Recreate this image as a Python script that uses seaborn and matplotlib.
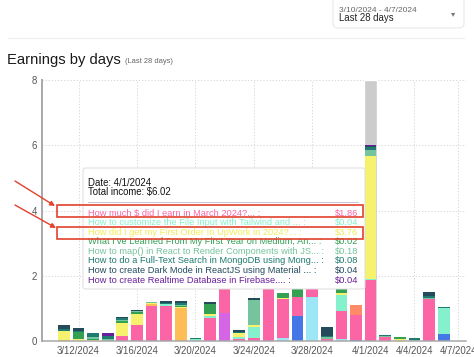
import numpy as np
import seaborn as sns
import matplotlib.pyplot as plt
from matplotlib.patches import FancyBboxPatch, Rectangle, FancyArrowPatch

# days shown on the chart
days = ["3/10/2024", "3/11/2024", "3/12/2024", "3/13/2024", "3/14/2024", "3/15/2024",
        "3/16/2024", "3/17/2024", "3/18/2024", "3/19/2024", "3/20/2024", "3/21/2024",
        "3/22/2024", "3/23/2024", "3/24/2024", "3/25/2024", "3/26/2024", "3/27/2024",
        "3/28/2024", "3/29/2024", "3/30/2024", "3/31/2024", "4/1/2024", "4/2/2024",
        "4/3/2024", "4/4/2024", "4/5/2024", "4/6/2024", "4/7/2024"]
tick_days = ["3/12/2024", "3/16/2024", "3/20/2024", "3/24/2024", "3/28/2024",
             "4/1/2024", "4/4/2024", "4/7/2024"]
hover_day = "4/1/2024"
y_ticks = [0, 2, 4, 6, 8]

# earnings ($) per article per day, listed bottom -> top of the stack
other_orchid = [0, 0, 0, 0, 0, 0, 0, 0, 0, 0, 0, 0, 0.85, 0, 0, 0, 0, 0, 0, 0, 0, 0, 0, 0, 0, 0, 0, 0, 0]
other_blue = [0, 0, 0, 0, 0, 0, 0, 0, 0, 0, 0, 0, 0, 0, 0, 0, 0, 0.77, 0, 0, 0, 0.03, 0, 0, 0, 0, 0, 0.20, 0]
other_sky = [0, 0, 0, 0, 0, 0, 0, 0, 0, 0, 0, 0, 0, 0, 0, 0, 0.08, 0, 1.36, 0, 0.05, 0, 0, 0, 0, 0, 0, 0, 0]
march_earnings = [0, 0, 0, 0, 0, 0.15, 0.50, 1.07, 1.06, 0, 0, 0.69, 0.95, 0.07, 0.08, 1.90, 1.20, 0.57,
                  0.30, 0.05, 0.88, 0.77, 1.86, 0.11, 0, 0, 1.28, 0, 0]
other_orange = [0, 0.04, 0, 0, 0, 0, 0, 0.05, 0, 1.00, 0, 0, 0, 0, 0, 0, 0, 0, 0, 0, 0, 0, 0, 0, 0, 0, 0, 0, 0]
other_coral = [0, 0, 0, 0, 0, 0, 0, 0, 0, 0, 0, 0, 0, 0, 0, 0, 0, 0, 0, 0, 0, 0.31, 0, 0, 0, 0, 0, 0, 0]
tailwind_input = [0, 0, 0, 0, 0, 0, 0, 0, 0.06, 0, 0.05, 0.08, 0, 0.05, 0.36, 0, 0, 0, 0, 0, 0.48, 0,
                  0.04, 0, 0, 0, 0, 0.81, 0]
upwork_order = [0, 0.27, 0.05, 0.02, 0, 0.41, 0.34, 0.03, 0, 0.03, 0, 0.07, 0, 0.13, 0.05, 0, 0.03, 0,
                0, 0, 0.05, 0, 3.76, 0, 0.05, 0, 0, 0, 0]
medium_year = [0, 0, 0.22, 0.03, 0, 0.06, 0.06, 0, 0, 0.03, 0, 0.30, 0, 0, 0, 0, 0.17, 0.30, 0, 0, 0.14,
               0, 0.02, 0, 0.07, 0, 0, 0, 0]
react_map = [0, 0, 0, 0.08, 0.05, 0.03, 0.03, 0.05, 0, 0.05, 0, 0, 0, 0, 0.77, 0, 0, 0, 0, 0.07, 0, 0,
             0.18, 0.03, 0, 0.02, 0.03, 0, 0]
mongo_search = [0, 0.05, 0.04, 0.12, 0.09, 0.04, 0, 0, 0.03, 0.05, 0.03, 0, 0, 0.04, 0, 0, 0, 0, 0, 0.03,
                0, 0, 0.08, 0.03, 0, 0.07, 0.07, 0.04, 0]
dark_mode = [0, 0.13, 0.08, 0, 0, 0.06, 0.03, 0, 0.07, 0.06, 0, 0.05, 0, 0.05, 0.05, 0, 0, 0, 0, 0.27, 0,
             0, 0.04, 0, 0, 0, 0.12, 0, 0]
firebase_db = [0, 0, 0, 0, 0.11, 0, 0, 0, 0, 0, 0, 0, 0, 0, 0, 0, 0, 0, 0, 0, 0, 0, 0.04, 0, 0, 0, 0, 0, 0]

series = [
    (other_orchid, "#d565e4"),
    (other_blue, "#4576e6"),
    (other_sky, "#9ce6f6"),
    (march_earnings, "#fb65a6"),
    (other_orange, "#ffbd55"),
    (other_coral, "#ff8c66"),
    (tailwind_input, "#84f0cc"),
    (upwork_order, "#f7f26e"),
    (medium_year, "#33a052"),
    (react_map, "#76c49d"),
    (mongo_search, "#1f7a70"),
    (dark_mode, "#234b5c"),
    (firebase_db, "#6a1f9a"),
]

# tooltip rows for the hovered day
tip_titles = [
    "How much $ did I earn in March 2024?... :",
    "How to customize the File Input with Tailwind and ... :",
    "How did I get my First Order In UpWork in 2024?... :",
    "What I\u2019ve Learned From My First Year on Medium, An... :",
    "How to map() in React to Render Components with JS... :",
    "How to do a Full-Text Search in MongoDB using Mong... :",
    "How to create Dark Mode in ReactJS using Material ... :",
    "How to create Realtime Database in Firebase.... :",
]
tip_series = [march_earnings, tailwind_input, upwork_order, medium_year,
              react_map, mongo_search, dark_mode, firebase_db]
tip_colors = ["#fb65a6", "#84f0cc", "#f2ec5a", "#33a052", "#76c49d", "#1f7a70", "#234b5c", "#6a1f9a"]

W, H = 474, 357
sns.set_style("white")
plt.rcParams["font.family"] = ["Liberation Sans", "DejaVu Sans"]

fig = plt.figure(figsize=(W / 100, H / 100), dpi=100)
fig.patch.set_facecolor("white")


def fx(px):
    return px / W


def fy(py):
    return 1 - py / H


ax = fig.add_axes([fx(42), fy(341), (465.6 - 42) / W, (341 - 80) / H])

hover_idx = days.index(hover_day)
ax.bar(hover_idx, y_ticks[-1], width=0.9, color="#cccccc", zorder=1)

bottom = np.zeros(len(days))
for vals, col in series:
    vals = np.array(vals, dtype=float)
    sns.barplot(x=days, y=vals, bottom=bottom, color=col, saturation=1,
                width=0.8, errorbar=None, ax=ax, zorder=2, linewidth=0)
    bottom += vals

ax.set_xlim(-0.5, len(days) - 0.5)
ax.set_ylim(y_ticks[0], y_ticks[-1])
ax.set_yticks(y_ticks)
ax.set_xticks([days.index(d) for d in tick_days])
ax.set_xticklabels(tick_days)
ax.set_xlabel("")
ax.set_ylabel("")
ax.tick_params(axis="both", colors="#9a9a9a", labelcolor="#555555", labelsize=6.9,
               length=2.5, width=0.8, pad=1.2)
ax.grid(True, linestyle=(0, (1.2, 2.0)), color="#d4d4d4", linewidth=0.7)
ax.set_axisbelow(True)
for s in ["top", "right"]:
    ax.spines[s].set_visible(False)
ax.spines["left"].set_color("#a8a8a8")
ax.spines["left"].set_linewidth(1.4)
ax.spines["bottom"].set_color("#a8a8a8")
ax.spines["bottom"].set_linewidth(1.1)

# header
fig.text(fx(7), fy(64), "Earnings by days", fontsize=10.6, color="#1a1a1a", va="baseline")
fig.text(fx(125), fy(63), "(Last 28 days)", fontsize=5.4, color="#666666", va="baseline")
fig.add_artist(FancyBboxPatch((fx(333), fy(28)), fx(464) - fx(333), fy(-4) - fy(28),
                              boxstyle="round,pad=0,rounding_size=0.012",
                              transform=fig.transFigure, facecolor="white",
                              edgecolor="#e8e8e8", linewidth=0.8, zorder=4))
fig.text(fx(339), fy(12), f"{days[0]} - {days[-1]}", fontsize=6.0, color="#666666",
         va="baseline", zorder=5)
fig.text(fx(339), fy(21), "Last 28 days", fontsize=6.9, color="#222222",
         va="baseline", zorder=5)
fig.text(fx(453), fy(14), "\u25be", fontsize=6, color="#777777", ha="center", va="center",
         family="DejaVu Sans", zorder=5)
fig.add_artist(plt.Line2D([fx(8), fx(464)], [fy(38), fy(38)], color="#eeeeee",
                          linewidth=0.8, transform=fig.transFigure))

# tooltip
fig.add_artist(FancyBboxPatch((fx(83), fy(289)), fx(365) - fx(83), fy(168) - fy(289),
                              boxstyle="round,pad=0,rounding_size=0.006",
                              transform=fig.transFigure, facecolor="white",
                              edgecolor="#dddddd", linewidth=0.7, zorder=5))
total = sum(s[hover_idx] for s, _ in series)
fig.text(fx(88), fy(183), f"Date: {hover_day}", fontsize=6.9, color="#111111",
         va="center", zorder=6)
fig.text(fx(88), fy(192.5), f"Total income: ${total:.2f}", fontsize=6.9, color="#111111",
         va="center", zorder=6)
fig.add_artist(plt.Line2D([fx(88), fx(358)], [fy(202), fy(202)], color="#c8c4d4",
                          linewidth=0.7, transform=fig.transFigure, zorder=6))
for i, (title, vals, col) in enumerate(zip(tip_titles, tip_series, tip_colors)):
    yy = 213.3 + i * 9.53
    fig.text(fx(88), fy(yy), title, fontsize=6.65, color=col, va="center", zorder=6)
    fig.text(fx(358), fy(yy), f"${vals[hover_idx]:.2f}", fontsize=6.65, color=col,
             va="center", ha="right", zorder=6)

# red highlight annotations
for y0, y1 in [(205.5, 217.5), (227, 239)]:
    fig.add_artist(Rectangle((fx(57), fy(y1)), fx(363) - fx(57), fy(y0) - fy(y1),
                             transform=fig.transFigure, fill=False,
                             edgecolor="#e2412c", linewidth=1.2, zorder=7))
for (x0, y0), (x1, y1) in [((15, 181), (55, 206)), ((15, 205), (56, 228))]:
    fig.add_artist(FancyArrowPatch((fx(x0), fy(y0)), (fx(x1), fy(y1)),
                                   transform=fig.transFigure, arrowstyle="-|>",
                                   mutation_scale=7, color="#e2412c", linewidth=1.0,
                                   shrinkA=0, shrinkB=0, zorder=7))

fig.savefig("out.png", dpi=100)
